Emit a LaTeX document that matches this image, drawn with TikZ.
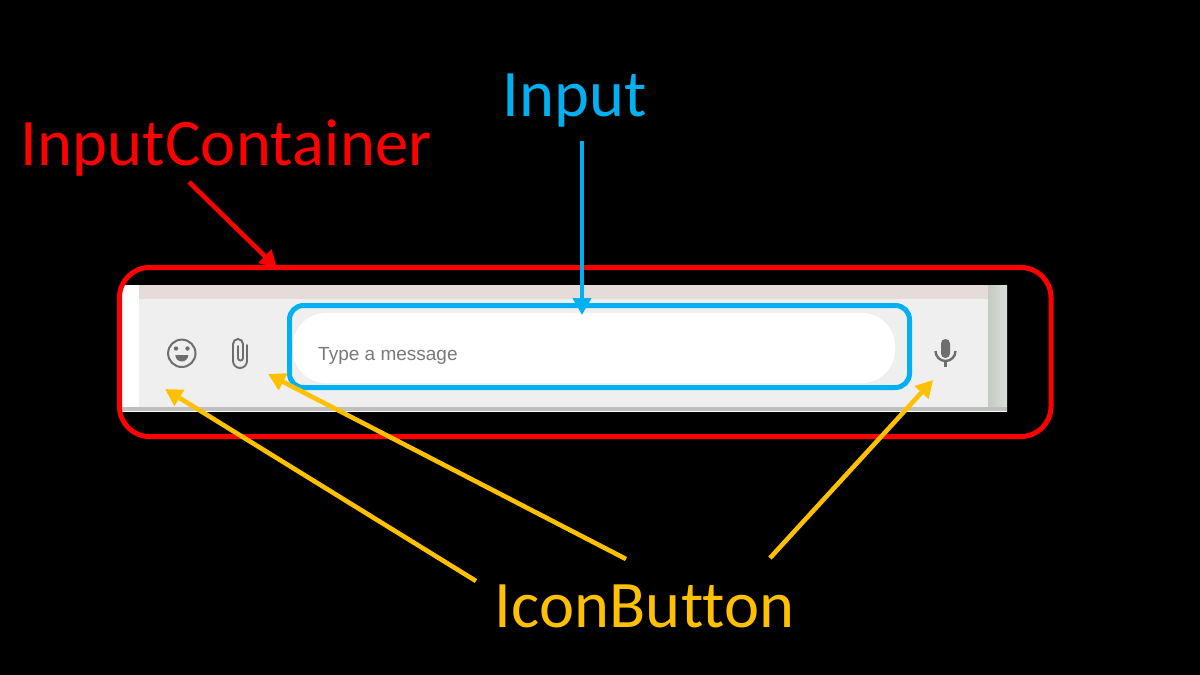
\documentclass[tikz,border=0pt]{standalone}
\usepackage{fontspec}
\setmainfont[Ligatures=NoCommon,LetterSpace=0.4]{Carlito}
\newfontfamily\phfont{Liberation Sans}
\usetikzlibrary{arrows.meta}
\definecolor{redc}{HTML}{FF0000}
\definecolor{bluec}{HTML}{00B0F0}
\definecolor{yelc}{HTML}{FFC000}
\definecolor{barbg}{HTML}{EFEFEF}
\definecolor{bandc}{HTML}{E4DCD8}
\definecolor{stripl}{HTML}{C4CAC4}
\definecolor{stripr}{HTML}{DADEDA}
\definecolor{icong}{HTML}{6E6E6E}
\tikzset{
  x=1pt,y=-1pt,
  lab/.style={inner sep=0pt,anchor=base west,font=\fontsize{66.5}{66.5}\selectfont},
  arr/.style={line width=4.6pt,-{Triangle[length=17pt,width=18pt]}},
  icon/.style={draw=icong,line width=2pt,fill=none},
}
\begin{document}
\begin{tikzpicture}
\useasboundingbox[fill=black] (0,0) rectangle (1200,675);
% screenshot bar
\fill[white] (122,285) rectangle (139,407);
\fill[barbg] (139,285) rectangle (988,407);
\fill[bandc] (139,285) rectangle (988,299);
\fill[left color=stripl,right color=stripr] (988,285) rectangle (1007,411);
\fill[black!25] (122,407) rectangle (1007,411);
\fill[white] (122,411) rectangle (1007,412);
\fill[white] (293,313) [rounded corners=33pt] rectangle (895,383);
\node[anchor=base west,inner sep=0pt,text=black!52,font=\phfont\fontsize{19}{19}\selectfont] (ph) at (318,360) {Type a message};
% smiley
\draw[icon] (181.8,353.3) circle (13.7pt);
\fill[icong] (176,348.5) circle (2.2pt) (187.5,348.5) circle (2.2pt);
\fill[icong] (175.3,355) -- (188.3,355) arc[start angle=0,end angle=-180,radius=6.5pt] -- cycle;
% paper clip
\draw[icon,line width=1.9pt,line cap=round] (247,345) -- (247,361) arc[start angle=0,end angle=-180,radius=7pt] -- (233,344) arc[start angle=180,end angle=0,radius=5pt] -- (243,358) arc[start angle=0,end angle=-180,radius=2.5pt] -- (238,346);
% mic
\fill[icong,rounded corners=4.4pt] (941,339) rectangle (950,358);
\draw[icong,line width=2.4pt] (935.5,351) arc[start angle=180,end angle=360,radius=10pt];
\draw[icong,line width=2.4pt] (945.5,361) -- (945.5,367);
% frames
\node[draw=redc,line width=5pt,rounded corners=30pt,minimum width=931.5pt,minimum height=169pt,inner sep=0pt] (container) at (585.25,352) {};
\node[draw=bluec,line width=5pt,rounded corners=14pt,minimum width=620pt,minimum height=82pt,inner sep=0pt] (input) at (599.5,346.5) {};
% labels
\node[lab,text=redc] (lc) at (20,165) {InputContainer};
\node[lab,text=bluec] (li) at (502,116.5) {Input};
\node[lab,text=yelc] (lb) at (494,627) {IconButton};
% end points
\coordinate (c1s) at (189,182);
\coordinate (c1e) at (277,268);
\coordinate (i1s) at (582,141);
\coordinate (i1e) at (582,315);
\coordinate (y1s) at (476,581);
\coordinate (y1e) at (165,389);
\coordinate (y2s) at (626,559);
\coordinate (y2e) at (268,374);
\coordinate (y3s) at (770,558);
\coordinate (y3e) at (933,380);
% connectors
\draw[arr,redc] (c1s) -- (c1e);
\draw[arr,bluec] (i1s) -- (i1e);
\draw[arr,yelc] (y1s) -- (y1e);
\draw[arr,yelc] (y2s) -- (y2e);
\draw[arr,yelc] (y3s) -- (y3e);
\end{tikzpicture}
\end{document}
